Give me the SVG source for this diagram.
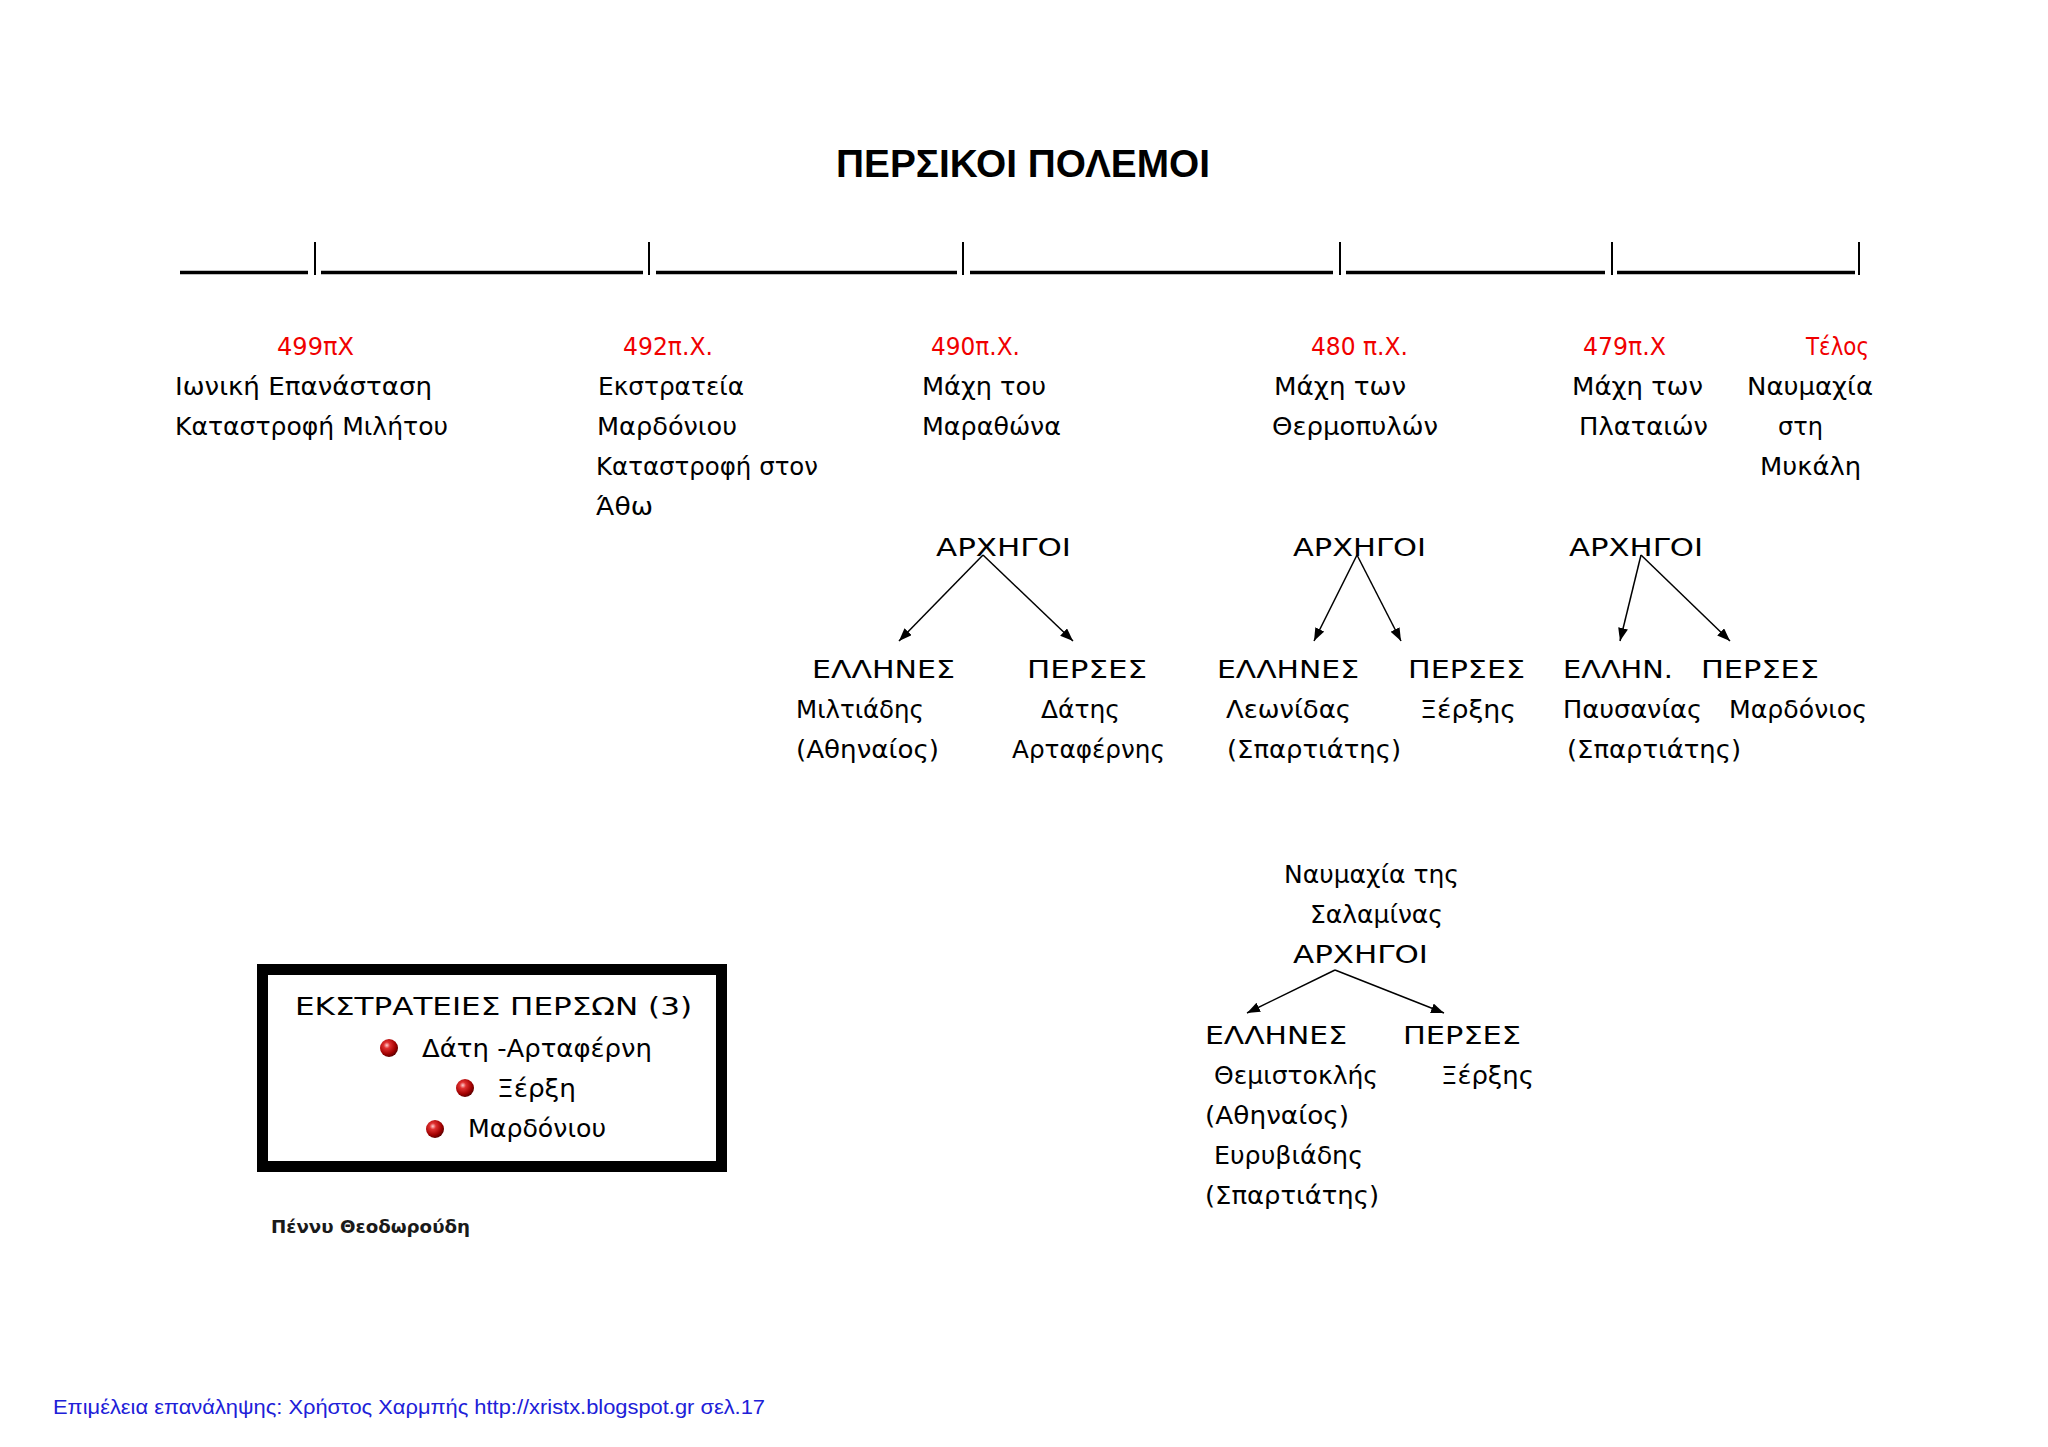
<svg xmlns="http://www.w3.org/2000/svg" width="2048" height="1447" viewBox="0 0 2048 1447">
<style>
text{font-family:"DejaVu Sans","Noto Sans",sans-serif;font-size:25px;fill:#000}
.t{font-family:"Liberation Sans",Arial,sans-serif;font-weight:bold;font-size:38px}
.d{fill:#f00000}
.a{font-family:"DejaVu Sans Bold","DejaVu Sans",sans-serif;font-weight:bold;font-size:17px;fill:#1a1a1a}
.f{font-family:"Liberation Sans",Arial,sans-serif;font-size:20px;fill:#2020d8}
.c{stroke:#000;stroke-width:1.5;fill:none;marker-end:url(#ah)}
</style>
<defs>
<marker id="ah" markerUnits="userSpaceOnUse" markerWidth="14" markerHeight="11" refX="13" refY="5" orient="auto" viewBox="0 0 14 11">
<path d="M0,0 L13,5 L0,10 z" fill="#000"/>
</marker>
<radialGradient id="ball" cx="0.38" cy="0.35" r="0.7">
<stop offset="0" stop-color="#ffd0d0"/>
<stop offset="0.25" stop-color="#e03030"/>
<stop offset="0.7" stop-color="#a00000"/>
<stop offset="1" stop-color="#500000"/>
</radialGradient>
</defs>
<rect width="2048" height="1447" fill="#fff"/>

<g id="title"><text class="t" x="1023" y="177" text-anchor="middle" textLength="374" lengthAdjust="spacingAndGlyphs">ΠΕΡΣΙΚΟΙ ΠΟΛΕΜΟΙ</text></g>

<g id="timeline" stroke="#000" fill="none">
<path d="M180,272.5H308M321,272.5H643M656,272.5H957M970,272.5H1333M1346,272.5H1605M1617,272.5H1855" stroke-width="3.5"/>
<path d="M315,242V275M649,242V275M963,242V275M1340,242V275M1612,242V275M1859,242V275" stroke-width="2"/>
</g>

<g id="e499">
<text class="d" x="277" y="355" textLength="77" lengthAdjust="spacingAndGlyphs">499πΧ</text>
<text x="175" y="395" textLength="257" lengthAdjust="spacingAndGlyphs">Ιωνική Επανάσταση</text>
<text x="175" y="435" textLength="273" lengthAdjust="spacingAndGlyphs">Καταστροφή Μιλήτου</text>
</g>
<g id="e492">
<text class="d" x="623" y="355" textLength="90" lengthAdjust="spacingAndGlyphs">492π.Χ.</text>
<text x="598" y="395" textLength="146" lengthAdjust="spacingAndGlyphs">Εκστρατεία</text>
<text x="597" y="435" textLength="140" lengthAdjust="spacingAndGlyphs">Μαρδόνιου</text>
<text x="596" y="475" textLength="222" lengthAdjust="spacingAndGlyphs">Καταστροφή στον</text>
<text x="596" y="515" textLength="57" lengthAdjust="spacingAndGlyphs">Άθω</text>
</g>
<g id="e490">
<text class="d" x="931" y="355" textLength="89" lengthAdjust="spacingAndGlyphs">490π.Χ.</text>
<text x="922" y="395" textLength="124" lengthAdjust="spacingAndGlyphs">Μάχη του</text>
<text x="922" y="435" textLength="139" lengthAdjust="spacingAndGlyphs">Μαραθώνα</text>
</g>
<g id="e480">
<text class="d" x="1311" y="355" textLength="97" lengthAdjust="spacingAndGlyphs">480 π.Χ.</text>
<text x="1274" y="395" textLength="132" lengthAdjust="spacingAndGlyphs">Μάχη των</text>
<text x="1272" y="435" textLength="166" lengthAdjust="spacingAndGlyphs">Θερμοπυλών</text>
</g>
<g id="e479">
<text class="d" x="1583" y="355" textLength="83" lengthAdjust="spacingAndGlyphs">479π.Χ</text>
<text x="1572" y="395" textLength="131" lengthAdjust="spacingAndGlyphs">Μάχη των</text>
<text x="1579" y="435" textLength="129" lengthAdjust="spacingAndGlyphs">Πλαταιών</text>
</g>
<g id="eTelos">
<text class="d" x="1806" y="355" textLength="63" lengthAdjust="spacingAndGlyphs">Τέλος</text>
<text x="1747" y="395" textLength="126" lengthAdjust="spacingAndGlyphs">Ναυμαχία</text>
<text x="1778" y="435" textLength="45" lengthAdjust="spacingAndGlyphs">στη</text>
<text x="1760" y="475" textLength="101" lengthAdjust="spacingAndGlyphs">Μυκάλη</text>
</g>

<g id="arx1"><text x="936" y="556" textLength="135" lengthAdjust="spacingAndGlyphs">ΑΡΧΗΓΟΙ</text></g>
<g id="gr1">
<text x="812" y="678" textLength="143" lengthAdjust="spacingAndGlyphs">ΕΛΛΗΝΕΣ</text>
<text x="796" y="718" textLength="128" lengthAdjust="spacingAndGlyphs">Μιλτιάδης</text>
<text x="796" y="758" textLength="143" lengthAdjust="spacingAndGlyphs">(Αθηναίος)</text>
</g>
<g id="pe1">
<text x="1027" y="678" textLength="120" lengthAdjust="spacingAndGlyphs">ΠΕΡΣΕΣ</text>
<text x="1041" y="718" textLength="79" lengthAdjust="spacingAndGlyphs">Δάτης</text>
<text x="1012" y="758" textLength="153" lengthAdjust="spacingAndGlyphs">Αρταφέρνης</text>
</g>

<g id="arx2"><text x="1293" y="556" textLength="133" lengthAdjust="spacingAndGlyphs">ΑΡΧΗΓΟΙ</text></g>
<g id="gr2">
<text x="1217" y="678" textLength="142" lengthAdjust="spacingAndGlyphs">ΕΛΛΗΝΕΣ</text>
<text x="1226" y="718" textLength="125" lengthAdjust="spacingAndGlyphs">Λεωνίδας</text>
<text x="1227" y="758" textLength="174" lengthAdjust="spacingAndGlyphs">(Σπαρτιάτης)</text>
</g>
<g id="pe2">
<text x="1408" y="678" textLength="117" lengthAdjust="spacingAndGlyphs">ΠΕΡΣΕΣ</text>
<text x="1420" y="718" textLength="96" lengthAdjust="spacingAndGlyphs">Ξέρξης</text>
</g>

<g id="arx3"><text x="1569" y="556" textLength="134" lengthAdjust="spacingAndGlyphs">ΑΡΧΗΓΟΙ</text></g>
<g id="gr3">
<text x="1563" y="678" textLength="110" lengthAdjust="spacingAndGlyphs">ΕΛΛΗΝ.</text>
<text x="1563" y="718" textLength="139" lengthAdjust="spacingAndGlyphs">Παυσανίας</text>
<text x="1567" y="758" textLength="174" lengthAdjust="spacingAndGlyphs">(Σπαρτιάτης)</text>
</g>
<g id="pe3">
<text x="1701" y="678" textLength="118" lengthAdjust="spacingAndGlyphs">ΠΕΡΣΕΣ</text>
<text x="1729" y="718" textLength="138" lengthAdjust="spacingAndGlyphs">Μαρδόνιος</text>
</g>

<g id="salamis">
<text x="1284" y="883" textLength="175" lengthAdjust="spacingAndGlyphs">Ναυμαχία της</text>
<text x="1310" y="923" textLength="133" lengthAdjust="spacingAndGlyphs">Σαλαμίνας</text>
<text x="1293" y="963" textLength="135" lengthAdjust="spacingAndGlyphs">ΑΡΧΗΓΟΙ</text>
</g>
<g id="gr4">
<text x="1205" y="1044" textLength="142" lengthAdjust="spacingAndGlyphs">ΕΛΛΗΝΕΣ</text>
<text x="1214" y="1084" textLength="164" lengthAdjust="spacingAndGlyphs">Θεμιστοκλής</text>
<text x="1205" y="1124" textLength="144" lengthAdjust="spacingAndGlyphs">(Αθηναίος)</text>
<text x="1214" y="1164" textLength="149" lengthAdjust="spacingAndGlyphs">Ευρυβιάδης</text>
<text x="1205" y="1204" textLength="174" lengthAdjust="spacingAndGlyphs">(Σπαρτιάτης)</text>
</g>
<g id="pe4">
<text x="1403" y="1044" textLength="118" lengthAdjust="spacingAndGlyphs">ΠΕΡΣΕΣ</text>
<text x="1441" y="1084" textLength="93" lengthAdjust="spacingAndGlyphs">Ξέρξης</text>
</g>

<g id="connectors">
<line class="c" x1="983" y1="555" x2="899" y2="641"/>
<line class="c" x1="983" y1="555" x2="1073" y2="641"/>
<line class="c" x1="1357" y1="555" x2="1314" y2="641"/>
<line class="c" x1="1357" y1="555" x2="1401" y2="641"/>
<line class="c" x1="1641" y1="555" x2="1620" y2="641"/>
<line class="c" x1="1641" y1="555" x2="1730" y2="641"/>
<line class="c" x1="1335" y1="970" x2="1247" y2="1013"/>
<line class="c" x1="1335" y1="970" x2="1444" y2="1013"/>
</g>

<g id="campaigns">
<rect x="262.5" y="969.5" width="459" height="197" fill="#fff" stroke="#000" stroke-width="11"/>
<text x="295" y="1015" textLength="397" lengthAdjust="spacingAndGlyphs">ΕΚΣΤΡΑΤΕΙΕΣ ΠΕΡΣΩΝ (3)</text>
<circle cx="389" cy="1048" r="9" fill="url(#ball)"/>
<text x="422" y="1057" textLength="230" lengthAdjust="spacingAndGlyphs">Δάτη -Αρταφέρνη</text>
<circle cx="465" cy="1088" r="9" fill="url(#ball)"/>
<text x="497" y="1097" textLength="79" lengthAdjust="spacingAndGlyphs">Ξέρξη</text>
<circle cx="435" cy="1129" r="9" fill="url(#ball)"/>
<text x="468" y="1137" textLength="138" lengthAdjust="spacingAndGlyphs">Μαρδόνιου</text>
</g>

<g id="author"><text class="a" x="271" y="1233" textLength="199" lengthAdjust="spacingAndGlyphs">Πέννυ Θεοδωρούδη</text></g>
<g id="footer"><text class="f" x="53" y="1414" textLength="712" lengthAdjust="spacingAndGlyphs">Επιμέλεια επανάληψης: Χρήστος Χαρμπής http://xristx.blogspot.gr σελ.17</text></g>
</svg>
